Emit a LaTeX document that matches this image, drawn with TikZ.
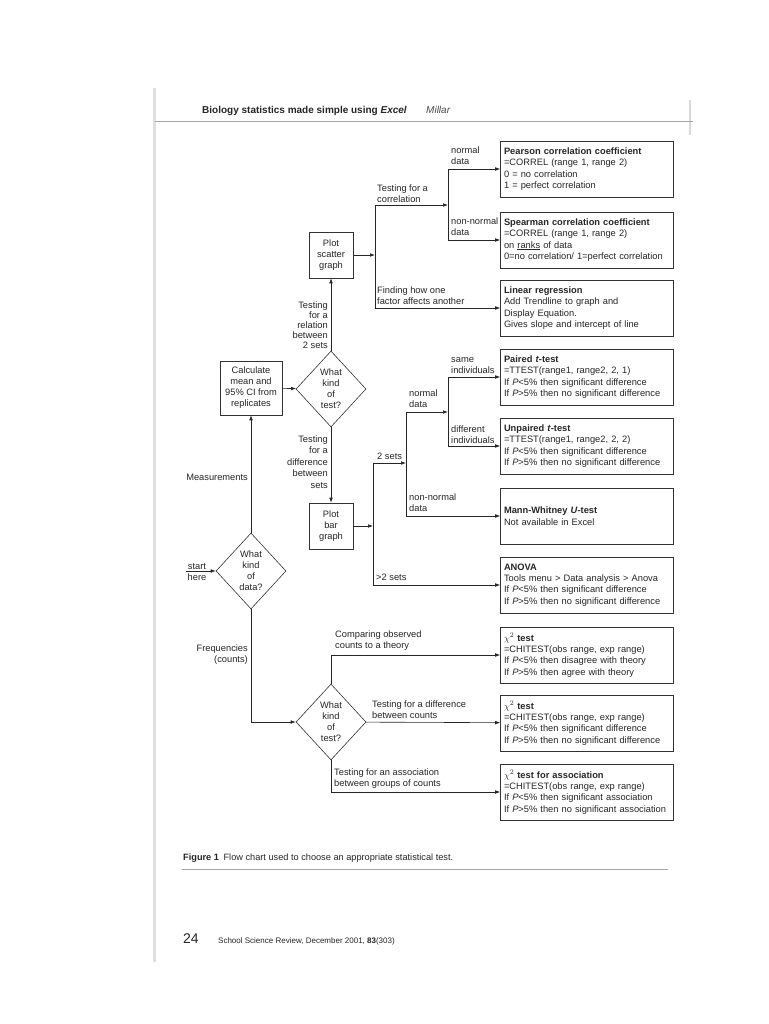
\documentclass[tikz,border=0pt]{standalone}
\usepackage{fontspec}
\setmainfont{Liberation Sans}
\usetikzlibrary{arrows.meta,shapes.geometric,positioning}

\newcommand\boxfont{\fontsize{9.3}{11.4}\selectfont\hyphenpenalty=10000}
\newcommand\lblfont{\fontsize{9.3}{11}\selectfont}

\begin{document}
\begin{tikzpicture}[x=1pt,y=-1pt,
  arr/.style={draw=black!85, line width=0.6pt, -{Latex[length=5pt,width=3.6pt]}},
  result/.style={draw=black!80, line width=0.6pt, text width=166pt, inner xsep=3.5pt, inner ysep=2pt,
    minimum height=56pt, align=left, font=\boxfont, text=black!85},
  action/.style={draw=black!80, line width=0.6pt, align=center, inner sep=1pt, font=\lblfont, text=black!85},
  choice/.style={draw=black!80, line width=0.6pt, diamond, inner sep=0pt, minimum width=70pt,
    minimum height=76pt, align=center, font=\lblfont, text=black!85},
  lbl/.style={inner sep=0pt, font=\lblfont, text=black!85}]
\useasboundingbox[fill=white] (0,0) rectangle (768,1024);

% page: scan edge, running head, caption, footer
\draw[gray!25, line width=3pt] (154,88) -- (154,962);
\draw[gray!30, line width=1.5pt] (690,100) -- (690,135);
\node[lbl, anchor=base west, font=\fontsize{10}{12}\selectfont\bfseries] (title) at (202,114) {Biology statistics made simple using \textit{Excel}};
\node[lbl, anchor=base west, font=\fontsize{10}{12}\selectfont\itshape, text=black!70] (author) at (426,114) {Millar};
\draw[gray!70, line width=0.8pt] (155,121) -- (693,121);
\node[lbl, anchor=base west, font=\fontsize{9.2}{11}\selectfont] (caption) at (183,860) {\textbf{Figure 1}\enspace Flow chart used to choose an appropriate statistical test.};
\draw[gray!70, line width=0.7pt] (182,869) -- (668,869);
\node[lbl, anchor=base west, font=\fontsize{14}{16}\selectfont] (page) at (183,943) {24};
\node[lbl, anchor=base west, font=\fontsize{8}{10}\selectfont] (journal) at (218,943) {School Science Review, December 2001, \textbf{83}(303)};

% tests
\node[result] (pearson) at (587,169) {\textbf{Pearson correlation coefficient}\\=CORREL (range 1, range 2)\\0 = no correlation\\1 = perfect correlation};
\node[result] (spearman) at (587,240) {\textbf{Spearman correlation coefficient}\\=CORREL (range 1, range 2)\\on \underline{ranks} of data\\0=no correlation/ 1=perfect correlation};
\node[result] (linreg) at (587,308) {\textbf{Linear regression}\\Add Trendline to graph and\\Display Equation.\\Gives slope and intercept of line};
\node[result] (paired) at (587,377) {\textbf{Paired \textit{t}-test}\\=TTEST(range1, range2, 2, 1)\\If \textit{P}<5\% then significant difference\\If \textit{P}>5\% then no significant difference};
\node[result] (unpaired) at (587,446) {\textbf{Unpaired \textit{t}-test}\\=TTEST(range1, range2, 2, 2)\\If \textit{P}<5\% then significant difference\\If \textit{P}>5\% then no significant difference};
\node[result] (mannw) at (587,516) {\textbf{Mann-Whitney \textit{U}-test}\\Not available in Excel};
\node[result] (anova) at (587,585) {\textbf{ANOVA}\\Tools menu > Data analysis > Anova\\If \textit{P}<5\% then significant difference\\If \textit{P}>5\% then no significant difference};
\node[result] (chifit) at (587,655) {$\chi^2$ \textbf{test}\\=CHITEST(obs range, exp range)\\If \textit{P}<5\% then disagree with theory\\If \textit{P}>5\% then agree with theory};
\node[result] (chidiff) at (587,723) {$\chi^2$ \textbf{test}\\=CHITEST(obs range, exp range)\\If \textit{P}<5\% then significant difference\\If \textit{P}>5\% then no significant difference};
\node[result] (chiassoc) at (587,792) {$\chi^2$ \textbf{test for association}\\=CHITEST(obs range, exp range)\\If \textit{P}<5\% then significant association\\If \textit{P}>5\% then no significant association};

% steps and decisions
\node[action, minimum width=62pt, minimum height=54pt] (calc) at (251,388) {Calculate\\mean and\\95\% CI from\\replicates};
\node[action, minimum width=44pt, minimum height=46pt] (scatter) at (331,255) {Plot\\scatter\\graph};
\node[action, minimum width=44pt, minimum height=46pt] (bar) at (331,526) {Plot\\bar\\graph};
\node[choice] (test) at (331,389) {What\\kind\\of\\test?};
\node[choice] (data) at (251,571) {What\\kind\\of\\data?};
\node[choice] (count) at (331,722) {What\\kind\\of\\test?};

% junctions
\coordinate (start) at (186,571);
\coordinate (j1) at (375,205);
\coordinate (j2) at (448,205);
\coordinate (k1) at (373,463);
\coordinate (k2) at (406,463);
\coordinate (k3) at (406,412);
\coordinate (k4) at (448,412);

% labels
\node[lbl, align=center] (here) at (197,572) {start\\here};
\node[lbl, anchor=east] (meas) at (248,477) {Measurements};
\node[lbl, anchor=east, align=right] (freq) at (248,655) {Frequencies\\(counts)};
\node[lbl, anchor=east, align=right, font=\fontsize{9.3}{10}\selectfont] (relation) at (328,325) {Testing\\for a\\relation\\between\\2 sets};
\node[lbl, anchor=east, align=right, font=\fontsize{9.3}{11.4}\selectfont] (difference) at (328,462) {Testing\\for a\\difference\\between\\sets};
\node[lbl, anchor=west, align=left] (corr) at (377,194) {Testing for a\\correlation};
\node[lbl, anchor=west, align=left] (ndata1) at (451,156) {normal\\data};
\node[lbl, anchor=west, align=left] (nndata1) at (451,227) {non-normal\\data};
\node[lbl, anchor=west, align=left] (finding) at (377,296) {Finding how one\\factor affects another};
\node[lbl, anchor=west] (twosets) at (377,456) {2 sets};
\node[lbl, anchor=west, align=left] (ndata2) at (409,399) {normal\\data};
\node[lbl, anchor=west, align=left] (same) at (451,366) {same\\individuals};
\node[lbl, anchor=west, align=left] (different) at (451,435) {different\\individuals};
\node[lbl, anchor=west, align=left] (nndata2) at (409,503) {non-normal\\data};
\node[lbl, anchor=west] (moresets) at (376,577) {>2 sets};
\node[lbl, anchor=west, align=left] (compare) at (335,641) {Comparing observed\\counts to a theory};
\node[lbl, anchor=west, align=left] (diffcount) at (372,710) {Testing for a difference\\between counts};
\node[lbl, anchor=west, align=left] (assoc) at (334,779) {Testing for an association\\between groups of counts};

% connectors
\draw[arr] (start) -- (data);
\draw[arr] (data) -- (calc);
\draw[arr] (calc) -- (test);
\draw[arr] (test) -- (scatter);
\draw[arr] (test) -- (bar);
\draw[arr] (scatter) -- (scatter -| j1);
\draw[arr] (j1) -- (j2);
\draw[arr] (j1) |- (linreg);
\draw[arr] (j2) |- (pearson);
\draw[arr] (j2) |- (spearman);
\draw[arr] (bar) -- (bar -| k1);
\draw[arr] (k1) -- (k2);
\draw[arr] (k1) |- (anova);
\draw[arr] (k3) -- (k4);
\draw[arr] (k3) |- (mannw);
\draw[arr] (k4) |- (paired);
\draw[arr] (k4) |- (unpaired);
\draw[arr] (data) |- (count);
\draw[arr] (count) |- (chifit);
\draw[arr] (count) -- (chidiff);
\draw[arr] (count) |- (chiassoc);
\end{tikzpicture}
\end{document}
